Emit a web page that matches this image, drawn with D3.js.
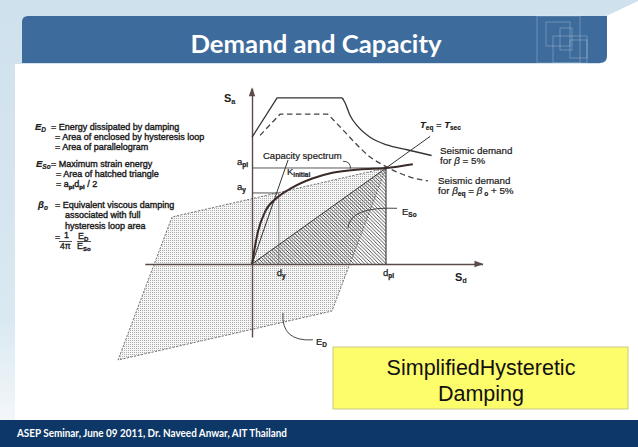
<!DOCTYPE html>
<html><head><meta charset="utf-8">
<script src="https://cdn.jsdelivr.net/npm/d3@7/dist/d3.min.js"></script>
<style>body{margin:0;background:#fff}svg{display:block}</style>
</head><body><svg id="c" width="638" height="447"></svg>
<script>
// ---------- data (chart units: d_pi = 10, a_pi = 10) ----------
const titleText = "Demand and Capacity";
const footerText = "ASEP Seminar, June 09 2011,  Dr. Naveed Anwar, AIT Thailand";
const boxLines = ["SimplifiedHysteretic", "Damping"];
const xAxisExtent = [-8, 17.2];
const yAxisExtent = [-7.6, 18.3];
const demand5 = [[0,13.2],[1.87,17.3],[6.72,17.3],[6.94,16.8],[7.31,15.5],[7.91,14.3],[8.81,13.2],[10.07,12.4],[11.57,11.9],[13.4,11.3]];
const demandEq = [[0.6,13.4],[2.09,15.6],[5.67,15.6],[6.79,13.96],[7.84,12.4],[8.81,11.15],[9.78,10.31],[10.82,9.58],[11.79,9.06],[13.13,8.65]];
const capacity = [[0,0],[0.45,3.4],[1.0,5.5],[1.87,6.9],[3.0,7.95],[4.5,8.9],[6.0,9.5],[8.0,9.85],[10,10],[12.0,10.4]];
const kInitial = [[0,0],[2.69,10.83]];
const tSecant = [[0,0],[13.3,13.3]];
const perfPoint = [10, 10];     // (d_pi, a_pi)
const yieldPoint = [2.0, 7.4];  // (d_y, a_y)
const loop = [[10,10],[-5.97,4.9],[-10,-10],[5.97,-4.9]];
const triangle = [[0,0],[10,0],[10,10]];
const leaderCap = [[6.8,10.7],[7.35,9.95]];
const leaderEso = [[10.82,5.8],[7.16,3.75]];
const leaderEd = [[4.55,-7.9],[2.31,-5.1]];
const legendLines = [
  {sym:[["E","i"],["D","is"]], symX:35, eqX:51, y:129.5, parts:[["= Energy dissipated by damping"]]},
  {eqX:55, y:139.5, parts:[["= Area of enclosed by hysteresis loop"]]},
  {eqX:55, y:149.5, parts:[["= Area of parallelogram"]]},
  {sym:[["E","i"],["So","is"]], symX:36, eqX:51, y:166.5, parts:[["= Maximum strain energy"]]},
  {eqX:56, y:177, parts:[["= Area of hatched triangle"]]},
  {eqX:56, y:187, parts:[["= a"],["pi","s"],["d"],["pi","s"],[" / 2"]]},
  {sym:[["β","i"],["o","is"]], symX:38, eqX:55, y:207.5, parts:[["=  Equivalent viscous damping"]]},
  {eqX:65, y:218, parts:[["associated with full"]]},
  {eqX:65, y:228.5, parts:[["hysteresis loop area"]]}
];

// ---------- setup ----------
const svg = d3.select("#c");
const defs = svg.append("defs");
const FONT = "'Liberation Sans', Arial, sans-serif";

const bgGrad = defs.append("linearGradient").attr("id","lg").attr("x1",0).attr("y1",0).attr("x2",0).attr("y2",1);
bgGrad.append("stop").attr("offset","0").attr("stop-color","#cfe1ed");
bgGrad.append("stop").attr("offset","0.75").attr("stop-color","#d9e8f1");
bgGrad.append("stop").attr("offset","1").attr("stop-color","#f2f7fa");

const dots = defs.append("pattern").attr("id","dots").attr("patternUnits","userSpaceOnUse").attr("width",2).attr("height",2);
dots.append("rect").attr("width",2).attr("height",2).attr("fill","#f7f7f7");
dots.append("rect").attr("width",1).attr("height",1).attr("fill","#ababab");

const hatch = defs.append("pattern").attr("id","hatch").attr("patternUnits","userSpaceOnUse").attr("width",3.6).attr("height",3.6);
hatch.append("path").attr("d","M-1,-1L4.6,4.6M2.6,-1L4.6,1M-1,2.6L1,4.6").attr("stroke","#333").attr("stroke-width",0.85);

// background
svg.append("rect").attr("width",638).attr("height",420).attr("fill","url(#lg)");
svg.append("rect").attr("x",15).attr("y",64).attr("width",623).attr("height",356).attr("fill","#fff");
svg.append("path").attr("d","M600,64L600,19L638,1L638,64Z").attr("fill","#fff");

// banner
svg.append("path").attr("d","M22,22Q22,16 28,16L607,16L607,56Q607,63 600,63L22,63Z").attr("fill","#3d6b9c");
const deco = svg.append("g").attr("fill","none").attr("stroke","rgba(255,255,255,0.25)").attr("stroke-width",1);
[[537,16,43,47],[546,22,24,24],[553,36,34,27],[560,28,12,22],[570,40,17,18]].forEach(r=>{
  deco.append("rect").attr("x",r[0]).attr("y",r[1]).attr("width",r[2]).attr("height",r[3]);
});
svg.append("text").attr("x",316).attr("y",53).attr("text-anchor","middle")
  .attr("font-family","Lato, 'Open Sans', sans-serif").attr("font-weight","bold").attr("font-size",24.5)
  .attr("fill","#fff").attr("textLength",251).attr("lengthAdjust","spacingAndGlyphs").text(titleText);

// footer
svg.append("rect").attr("y",420).attr("width",638).attr("height",27).attr("fill","#0c3766");
svg.append("text").attr("x",17).attr("y",437).attr("font-family","Lato, 'Open Sans', sans-serif")
  .attr("font-weight","bold").attr("font-size",10.5).attr("fill","#fff")
  .attr("textLength",270).attr("lengthAdjust","spacingAndGlyphs").text(footerText);

// ---------- chart ----------
const x = d3.scaleLinear().domain(xAxisExtent).range([144.8, 482.5]);
const y = d3.scaleLinear().domain(yAxisExtent).range([336.96, 88.3]);
const P = d => [x(d[0]), y(d[1])];
const g = svg.append("g");
const lin = d3.line().x(d=>x(d[0])).y(d=>y(d[1]));

// loop (E_D) stipple
g.append("path").attr("d", lin(loop)+"Z").attr("fill","url(#dots)");
// hatched triangle (E_So)
g.append("path").attr("d", lin(triangle)+"Z").attr("fill","url(#hatch)");
// loop outline dashed
g.append("path").attr("d", lin(loop)+"Z")
  .attr("fill","none").attr("stroke","#555").attr("stroke-width",0.8).attr("stroke-dasharray","2.2,1.4");

// axes
const axCol = "#5b4b48";
const xa = g.append("g").attr("transform",`translate(0,${y(0)})`).call(d3.axisBottom(x).tickValues([]).tickSizeOuter(0));
const ya = g.append("g").attr("transform",`translate(${x(0)},0)`).call(d3.axisLeft(y).tickValues([]).tickSizeOuter(0));
[xa, ya].forEach(a => a.select(".domain").attr("stroke",axCol).attr("stroke-width",1.4));
const xe = x(xAxisExtent[1]), ye = y(yAxisExtent[1]);
g.append("path").attr("d",`M${xe+1},${y(0)}L${xe-8},${y(0)-3.2}L${xe-8},${y(0)+3.2}Z`).attr("fill",axCol);
g.append("path").attr("d",`M${x(0)},${ye-1}L${x(0)-3.2},${ye+8}L${x(0)+3.2},${ye+8}Z`).attr("fill",axCol);

// a_pi, a_y, d_y, d_pi lines
const thin = "#444";
g.append("line").attr("x1",x(0)).attr("x2",x(perfPoint[0])).attr("y1",y(perfPoint[1])).attr("y2",y(perfPoint[1])).attr("stroke",thin).attr("stroke-width",0.9);
g.append("line").attr("x1",x(0)).attr("x2",x(yieldPoint[0])).attr("y1",y(yieldPoint[1])).attr("y2",y(yieldPoint[1])).attr("stroke",thin).attr("stroke-width",0.9);
g.append("line").attr("x1",x(yieldPoint[0])).attr("x2",x(yieldPoint[0])).attr("y1",y(yieldPoint[1])).attr("y2",y(0)).attr("stroke","#777").attr("stroke-width",0.9);
g.append("line").attr("x1",x(perfPoint[0])).attr("x2",x(perfPoint[0])).attr("y1",y(perfPoint[1])).attr("y2",y(0)).attr("stroke","#333").attr("stroke-width",1.1);

// K initial & T secant
g.append("path").attr("d",lin(kInitial)).attr("fill","none").attr("stroke","#333").attr("stroke-width",1);
g.append("path").attr("d",lin(tSecant)).attr("fill","none").attr("stroke","#333").attr("stroke-width",1);

// demand curves: straight rise and plateau, smooth descending branch
const mono = d3.line().x(d=>x(d[0])).y(d=>y(d[1])).curve(d3.curveMonotoneX);
function demandPath(arr){
  return lin(arr.slice(0,3)) + mono(arr.slice(2)).replace(/^M[^CL]*/, "L"+x(arr[2][0])+","+y(arr[2][1]));
}
g.append("path").attr("d",demandPath(demand5)).attr("fill","none").attr("stroke","#333").attr("stroke-width",1.3);
g.append("path").attr("d",demandPath(demandEq)).attr("fill","none").attr("stroke","#444").attr("stroke-width",1.3).attr("stroke-dasharray","5.5,3.5");
// capacity spectrum
g.append("path").attr("d",mono(capacity)).attr("fill","none").attr("stroke","#3a2a28").attr("stroke-width",2);

// leaders
function leader(pts, bend){
  const a = P(pts[0]), b = P(pts[1]);
  g.append("path").attr("d",`M${a[0]},${a[1]}Q${bend(a,b)}${b[0]},${b[1]}`).attr("fill","none").attr("stroke","#333").attr("stroke-width",0.9);
}
leader(leaderCap, (a,b)=>`${b[0]},${a[1]} `);
leader(leaderEso, (a,b)=>`${b[0]+2},${a[1]-2} `);
leader(leaderEd, (a,b)=>`${b[0]-2},${a[1]+2} `);

// ---------- labels ----------
function rich(sel, xx, yy, parts, size, opts={}){
  const t = sel.append("text").attr("x",xx).attr("y",yy).attr("font-family",FONT).attr("font-size",size)
    .attr("fill", opts.fill||"#1a1a1a");
  if (opts.anchor) t.attr("text-anchor", opts.anchor);
  if (opts.stroke) t.attr("stroke", opts.fill||"#1a1a1a").attr("stroke-width", opts.stroke);
  let shift = 0;
  parts.forEach(p => {
    const st = p[1]||"";
    const ts = t.append("tspan").text(p[0]);
    const want = st.includes("s") ? 2.2 : 0;
    if (want !== shift) { ts.attr("dy", want - shift); shift = want; }
    if (st.includes("s")) ts.attr("font-size", size*0.68).attr("font-weight","bold");
    if (st.includes("i")) ts.attr("font-style","italic");
    if (st.includes("b")) ts.attr("font-weight","bold");
  });
  return t;
}
const L = svg.append("g");
legendLines.forEach(l => {
  if (l.sym) rich(L, l.symX, l.y, l.sym.map(p=>[p[0], p[1]+(p[1].includes("s")?"":"b")]), 9.5, {stroke:0.2});
  rich(L, l.eqX, l.y, l.parts, 9, {stroke:0.38});
});
// formula
rich(L, 55, 240, [["="]], 9, {stroke:0.35});
rich(L, 64, 238, [["1"]], 9, {stroke:0.35});
rich(L, 60, 249, [["4π"]], 8.5, {stroke:0.35});
L.append("line").attr("x1",59).attr("x2",72).attr("y1",241.5).attr("y2",241.5).attr("stroke","#222").attr("stroke-width",0.8);
rich(L, 78, 238.5, [["E"],["D","s"]], 9, {stroke:0.3});
rich(L, 77, 249, [["E"],["So","s"]], 9, {stroke:0.3});
L.append("line").attr("x1",77).attr("x2",91).attr("y1",241.5).attr("y2",241.5).attr("stroke","#222").attr("stroke-width",0.8);

// chart labels
const C = svg.append("g");
rich(C, 224, 102, [["S","b"],["a","s"]], 11, {});
rich(C, 455, 281, [["S","b"],["d","s"]], 11, {});
rich(C, 237, 165, [["a"],["pi","s"]], 9.5, {stroke:0.25});
rich(C, 237, 190, [["a"],["y","s"]], 9.5, {stroke:0.25});
rich(C, x(yieldPoint[0])-2, 276, [["d"],["y","s"]], 9.5, {stroke:0.25});
rich(C, x(perfPoint[0])-3, 276, [["d"],["pi","s"]], 9.5, {stroke:0.25});
rich(C, 263, 158.5, [["Capacity spectrum"]], 9.5, {stroke:0.2});
rich(C, 287, 175, [["K"],["initial","s"]], 9.5, {stroke:0.2});
rich(C, 420, 128, [["T","ib"],["eq","s"],[" = "],["T","ib"],["sec","s"]], 9.5, {stroke:0.15});
rich(C, 440, 153.5, [["Seismic demand"]], 9.8, {stroke:0.2});
rich(C, 440, 163.5, [["for  "],["β","i"],[" = 5%"]], 9.8, {stroke:0.2});
rich(C, 438, 184, [["Seismic demand"]], 9.8, {stroke:0.2});
rich(C, 438, 194, [["for  "],["β","i"],["eq","s"],[" = "],["β","i"],[" o","s"],[" + 5%"]], 9.8, {stroke:0.2});
rich(C, 402, 215, [["E"],["So","s"]], 9.5, {stroke:0.2});
rich(C, 316, 345, [["E"],["D","s"]], 9.5, {stroke:0.2});

// yellow box
svg.append("rect").attr("x",333).attr("y",347).attr("width",295).attr("height",62)
  .attr("fill","#fdfc6b").attr("stroke","#c9c98a").attr("stroke-width",1);
boxLines.forEach((t,i) => {
  svg.append("text").attr("x",481).attr("y",[375,401][i]).attr("text-anchor","middle")
    .attr("font-family",FONT).attr("font-size",21.5).attr("fill","#111").text(t);
});
</script></body></html>
